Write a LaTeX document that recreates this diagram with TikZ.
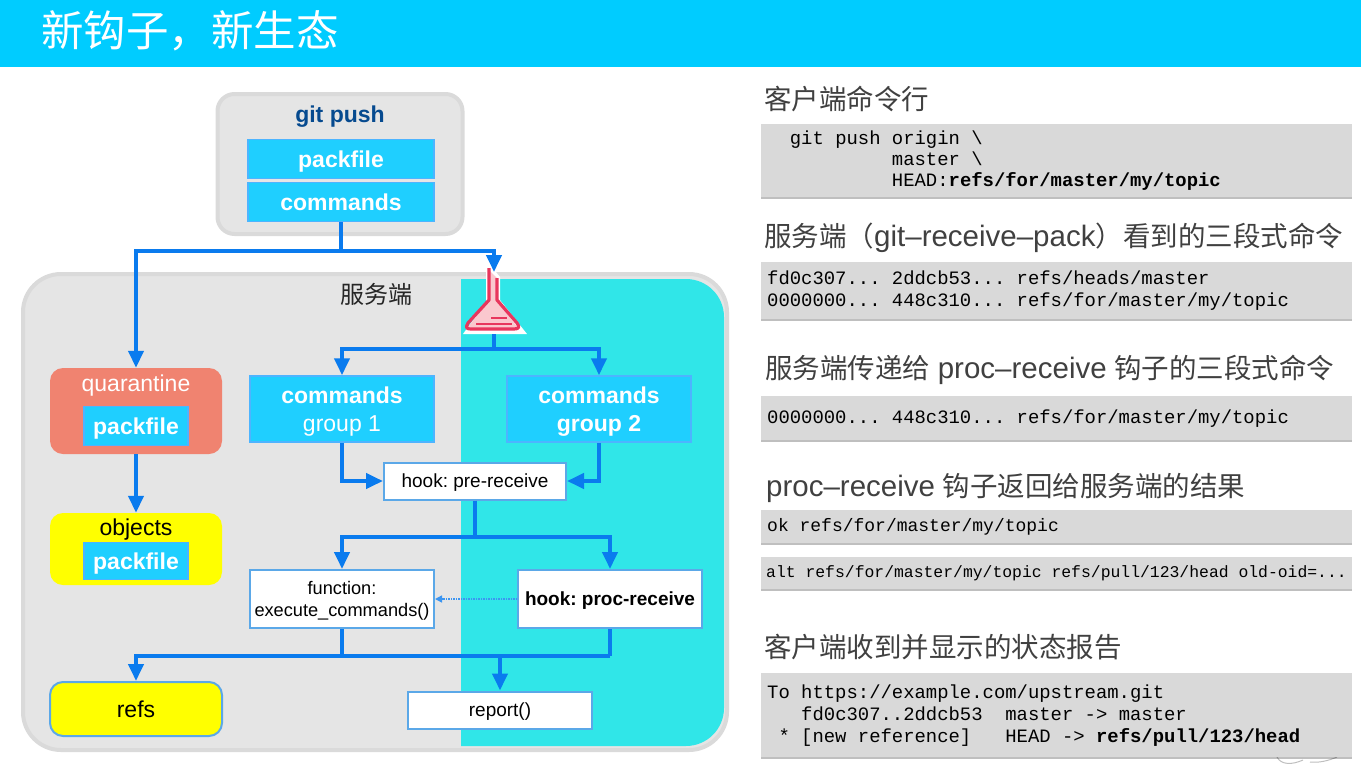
\documentclass[tikz,border=0pt]{standalone}
\usepackage{fontspec}
\setmainfont{Liberation Sans}
\setmonofont{Liberation Mono}
\newfontfamily\cjk{Noto Sans CJK SC}
\usetikzlibrary{arrows.meta,shadows}

\newcommand{\zh}[1]{{\cjk #1}}
\newcommand{\wide}[1]{{\fontsize{29.5}{32}\selectfont #1}}
\newcommand{\px}[2]{\fontsize{#1}{#2}\selectfont}

\definecolor{barcyan}{HTML}{00CCFF}
\definecolor{lanecyan}{HTML}{30E6E8}
\definecolor{boxcyan}{HTML}{1FCFFF}
\definecolor{boxedge}{HTML}{4DB4FF}
\definecolor{panelgray}{HTML}{E5E5E5}
\definecolor{paneledge}{HTML}{DADADA}
\definecolor{flowblue}{HTML}{0A7BEE}
\definecolor{hookedge}{HTML}{5BA8E8}
\definecolor{salmon}{HTML}{F08370}
\definecolor{storeyellow}{HTML}{FFFF00}
\definecolor{flaskred}{HTML}{E8365D}
\definecolor{flaskpink}{HTML}{FAC8CE}
\definecolor{codegray}{HTML}{D9D9D9}

\tikzset{
    panel/.style={draw=paneledge, line width=4pt, fill=panelgray, inner sep=0pt},
    bluebox/.style={draw=boxedge, line width=1.5pt, fill=boxcyan, text=white, inner sep=0pt, text depth=0pt, font=\px{23}{28}, align=center},
    hookbox/.style={draw=hookedge, line width=2pt, fill=white, text=black, inner sep=0pt, text depth=0pt, font=\px{19}{22}, align=center},
    store/.style={rounded corners=13pt, inner sep=0pt, text depth=0pt, minimum width=172pt},
    caption/.style={inner sep=0pt, text depth=0pt, font=\px{23}{28}},
    heading/.style={anchor=west, inner sep=0pt, text=black!75, font=\px{27.5}{32}},
    codebox/.style={anchor=north west, fill=codegray, minimum width=591pt, text width=579pt, inner xsep=6pt, inner ysep=0pt, align=flush left, drop shadow={shadow xshift=0pt, shadow yshift=-2pt, fill=black, opacity=.25}},
    flow/.style={draw=flowblue, line width=4pt},
    flowto/.style={flow, -{Triangle[length=17pt,width=15pt]}},
}

\begin{document}
\frenchspacing
\begin{tikzpicture}[x=1pt, y=-1pt]
    \useasboundingbox (0,0) rectangle (1361,772);

    \fill[barcyan] (0,0) rectangle (1361,67);
    \node[anchor=west, inner sep=0pt, text=white, font=\px{42.5}{48}] (title) at (41,31) {\zh{新钩子，新生态}};

    \node[panel, rounded corners=38pt, minimum width=704pt, minimum height=476pt] (server) at (375,512) {};
    \fill[lanecyan] (461,279) [rounded corners=38pt] -- (724,279) -- (724,746) [sharp corners] -- (461,746) -- cycle;
    \node[inner sep=0pt, text=black!85, font=\px{24}{28}] (serverlabel) at (376,294) {\zh{服务端}};

    \node[panel, rounded corners=17pt, minimum width=245pt, minimum height=140pt] (client) at (340,164) {};
    \node[caption, text=flowblue!60!black, font=\bfseries\px{23}{28}] (gitpush) at (340,114) {git push};
    \node[bluebox, minimum width=186pt, minimum height=39pt] (pushpack) at (341,159) {\textbf{packfile}};
    \node[bluebox, minimum width=186pt, minimum height=39pt] (commands) at (341,202) {\textbf{commands}};

    \node[store, fill=salmon, minimum height=86pt] (quarantine) at (136,411) {};
    \node[caption, text=white] (quarantinelabel) at (136,383) {quarantine};
    \node[bluebox, minimum width=104pt, minimum height=39pt] (quarpack) at (136,426) {\textbf{packfile}};

    \node[store, fill=storeyellow, minimum height=72pt] (objects) at (136,549) {};
    \node[caption, text=black] (objectslabel) at (136,527) {objects};
    \node[bluebox, minimum width=104pt, minimum height=37pt] (objpack) at (136,561) {\textbf{packfile}};

    \node[store, draw=hookedge, line width=2pt, fill=storeyellow, minimum height=54pt, font=\px{23}{28}] (refs) at (136,709) {refs};

    \node[bluebox, minimum width=184pt, minimum height=66pt] (group1) at (342,409) {\textbf{commands}\\group 1};
    \node[bluebox, minimum width=184pt, minimum height=66pt] (group2) at (599,409) {\textbf{commands}\\\textbf{group 2}};
    \node[hookbox, minimum width=182pt, minimum height=37pt] (prereceive) at (475,481) {hook: pre-receive};
    \node[hookbox, minimum width=184pt, minimum height=58pt, font=\px{18.2}{22}] (function) at (342,599) {function:\\execute\_commands()};
    \node[hookbox, minimum width=184pt, minimum height=58pt] (procreceive) at (610,599) {\textbf{hook: proc-receive}};
    \node[hookbox, minimum width=184pt, minimum height=37pt] (report) at (500,710) {report()};

    \coordinate (flasktop) at (494,272);
    \coordinate (flaskbase) at (494,334);
    \coordinate (pushsplit) at (341,251);
    \coordinate (flasksplit) at (494,349);
    \coordinate (hooksplit) at (475,537);
    \coordinate (mergeend) at (610,656);
    \coordinate (mergefun) at (342,656);
    \coordinate (mergereport) at (500,656);

    \fill[white] (463,334) -- (486,302) -- (486,267) -- (491,266) -- (500,277) -- (500,300) -- (527,334) -- cycle;
    \fill[flaskpink] (489,270) -- (497,278) -- (497,301) -- (518,328) -- (467,328) -- (489,301) -- cycle;
    \draw[flaskred, line width=3.2pt, line join=round] (489,268) -- (489,300) -- (468,323) .. controls (465,328) and (467,329) .. (471,329) -- (514,329) .. controls (519,329) and (520,327) .. (517,323) -- (497,300) -- (497,278);
    \draw[flaskred, line width=2.5pt] (491,318) -- (507,318);
    \draw[flaskred, line width=2.5pt] (476,324) -- (512,324);

    \draw[flow] (commands.south) -- (pushsplit);
    \draw[flowto] (pushsplit) -| (quarantine.north);
    \draw[flowto] (pushsplit) -| (flasktop);
    \draw[flow] (flaskbase) -- (flasksplit);
    \draw[flowto] (flasksplit) -| (group1.north);
    \draw[flowto] (flasksplit) -| (group2.north);
    \draw[flowto] (quarantine.south) -- (objects.north);
    \draw[flowto] (group1.south) |- (prereceive.west);
    \draw[flowto] (group2.south) |- (prereceive.east);
    \draw[flow] (prereceive.south) -- (hooksplit);
    \draw[flowto] (hooksplit) -| (function.north);
    \draw[flowto] (hooksplit) -| (procreceive.north);
    \draw[flowblue!80, line width=1.5pt, densely dotted, -{Triangle[length=7pt,width=7pt]}] (procreceive.west) -- (function.east);
    \draw[flow] (function.south) -- (mergefun);
    \draw[flow] (procreceive.south) -- (mergeend);
    \draw[flowto] (mergeend) -| (refs.north);
    \draw[flowto] (mergereport) -- (report.north);

    \node[heading] (head1) at (764,99) {\zh{客户端命令行}};
    \node[codebox, minimum height=73pt, font=\ttfamily\px{18.9}{21}] (code1) at (761,124) {\ \ git push origin \textbackslash\\
    \ \ \ \ \ \ \ \ \ \ \ master \textbackslash\\
    \ \ \ \ \ \ \ \ \ \ \ HEAD:\textbf{refs/for/master/my/topic}};

    \node[heading] (head2) at (764,238) {\zh{服务端（}\wide{git–receive–pack}\zh{）看到的三段式命令}};
    \node[codebox, minimum height=57pt, font=\ttfamily\px{18.9}{22}] (code2) at (761,262) {fd0c307... 2ddcb53... refs/heads/master\\
    0000000... 448c310... refs/for/master/my/topic};

    \node[heading] (head3) at (765,370) {\zh{服务端传递给} \wide{proc–receive} \zh{钩子的三段式命令}};
    \node[codebox, minimum height=44pt, font=\ttfamily\px{18.9}{22}] (code3) at (761,396) {0000000... 448c310... refs/for/master/my/topic};

    \node[heading] (head4) at (766,488) {\wide{proc–receive} \zh{钩子返回给服务端的结果}};
    \node[codebox, minimum height=33pt, font=\ttfamily\px{18}{22}] (code4) at (761,510) {ok refs/for/master/my/topic};
    \node[codebox, minimum height=32pt, text width=581pt, inner xsep=5pt, font=\ttfamily\px{16.4}{20}] (code5) at (761,557) {alt refs/for/master/my/topic refs/pull/123/head old-oid=...};

    \node[heading] (head5) at (764,647) {\zh{客户端收到并显示的状态报告}};
    \draw[black!25, line width=1pt] (1277,757) .. controls (1281,765) and (1292,765) .. (1303,760);
    \draw[black!25, line width=1pt] (1310,762) .. controls (1318,763) and (1328,761) .. (1337,757);
    \node[codebox, minimum height=84pt, font=\ttfamily\px{18.9}{22}] (code6) at (761,673) {To https://example.com/upstream.git\\
    \ \ \ fd0c307..2ddcb53\ \ master -> master\\
    \ * [new reference]\ \ \ HEAD -> \textbf{refs/pull/123/head}};
\end{tikzpicture}
\end{document}
